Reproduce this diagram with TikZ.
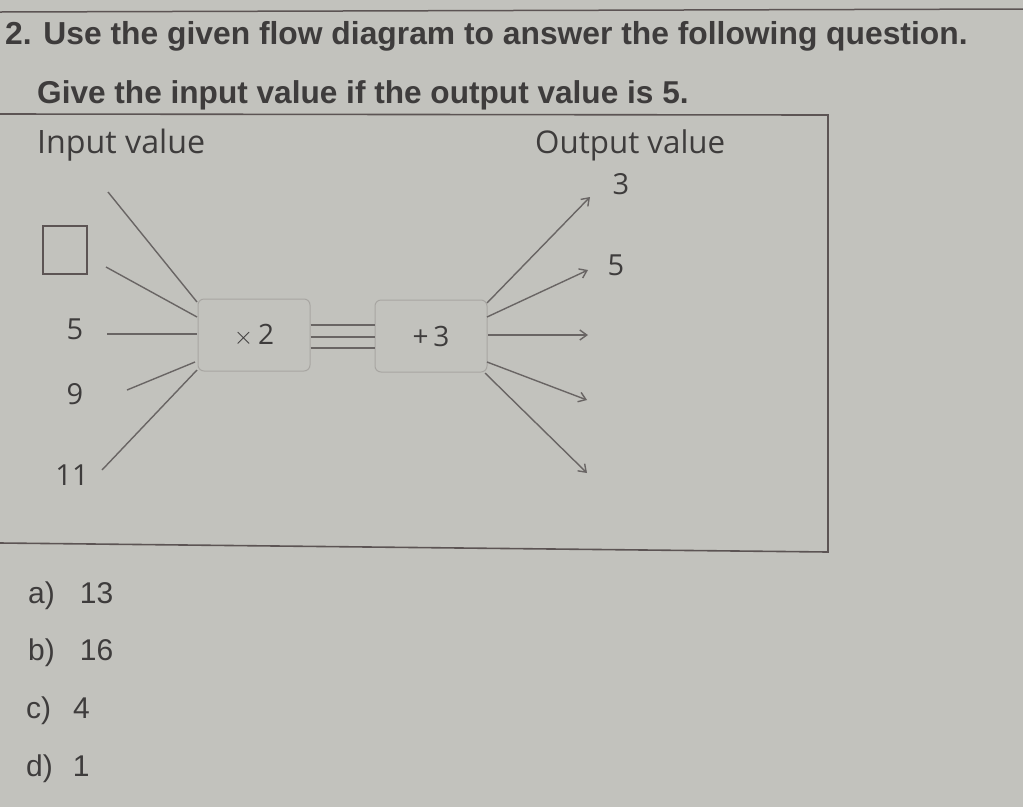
\documentclass[tikz,border=0pt]{standalone}
\usepackage{fontspec}
\setmainfont{Liberation Sans}
\newfontfamily\digfont{Open Sans}
\usetikzlibrary{arrows.meta}
\definecolor{paper}{RGB}{194,194,189}
\definecolor{ink}{RGB}{62,60,60}
\definecolor{pen}{RGB}{105,101,100}
\definecolor{faint}{RGB}{168,166,162}
\definecolor{frame}{RGB}{92,84,84}
\begin{document}
\begin{tikzpicture}[x=1pt,y=-1pt,
 txt/.style={inner sep=0pt,anchor=base west,text=ink},
 lbl/.style={inner sep=0pt,text=ink,font=\digfont\fontsize{29}{31}\selectfont},
 opbox/.style={draw=faint,line width=1pt,rounded corners=6pt,minimum width=112pt,minimum height=72pt,inner sep=0pt,text=ink,font=\digfont\fontsize{28}{30}\selectfont},
 conn/.style={draw=pen,line width=1.4pt},
 arr/.style={conn,-{Straight Barb[length=7pt,width=10pt]}},
 opt/.style={txt,font=\fontsize{30}{32}\selectfont}
]
\fill[paper] (0,0) rectangle (1023,807);
\useasboundingbox (0,0) rectangle (1023,807);
% top rule and frame
\draw[frame,line width=1.5pt] (0,12) -- (1023,9);
\draw[frame,line width=1.6pt] (0,114) -- (828,115) -- (828,552) -- (0,543);
% texts
\node[txt,font=\bfseries\fontsize{31.8}{34}\selectfont] (title) at (5,44) {2. Use the given flow diagram to answer the following question.};
\node[txt,font=\bfseries\fontsize{31.6}{34}\selectfont] (q) at (37,103) {Give the input value if the output value is 5.};
\node[txt,font=\digfont\fontsize{32.2}{34}\selectfont] (inlab) at (37,153) {Input value};
\node[txt,font=\digfont\fontsize{31.3}{33}\selectfont] (outlab) at (535,153) {Output value};
% operation boxes
\node[opbox] (m) at (254,335) {$\times$\,2};
\node[opbox] (p) at (431,336) {+\,3};
% input labels
\node[draw=frame,line width=2pt,minimum width=44pt,minimum height=48pt,inner sep=0pt] (sq) at (65,250) {};
\node[lbl] (i5) at (75,329) {5};
\node[lbl] (i9) at (75,394) {9};
\node[lbl] (i11) at (72,475) {11};
% output labels
\node[lbl] (o3) at (621,184) {3};
\node[lbl] (o5) at (616,265) {5};
% coordinates
\coordinate (a1) at (108,192);
\coordinate (a2) at (106,267);
\coordinate (a3) at (107,334);
\coordinate (a4) at (127,390);
\coordinate (a5) at (102,470);
\coordinate (b1) at (197,302);
\coordinate (b2) at (197,317);
\coordinate (b3) at (197,334);
\coordinate (b4) at (195,362);
\coordinate (b5) at (197,370);
\coordinate (c1) at (487,303);
\coordinate (c2) at (487,317);
\coordinate (c3) at (488,335);
\coordinate (c4) at (487,362);
\coordinate (c5) at (485,373);
\coordinate (d1) at (590,197);
\coordinate (d2) at (588,270);
\coordinate (d3) at (588,335);
\coordinate (d4) at (587,400);
\coordinate (d5) at (587,473);
% input lines
\foreach \k in {1,...,5} {\draw[conn] (a\k) -- (b\k);}
% output arrows
\foreach \k in {1,...,5} {\draw[arr] (c\k) -- (d\k);}
% triple link
\draw[conn,line width=1.2pt] (m.east |- 0,325) -- (p.west |- 0,325);
\draw[conn,line width=1.2pt] (m.east |- 0,337) -- (p.west |- 0,337);
\draw[conn,line width=1.2pt] (m.east |- 0,348) -- (p.west |- 0,348);
% options
\node[opt] (oa) at (28,603) {a)\hspace{25pt}13};
\node[opt] (ob) at (28,660) {b)\hspace{25pt}16};
\node[opt] (oc) at (26,718) {c)\hspace{22pt}4};
\node[opt] (od) at (26,776) {d)\hspace{20pt}1};
\end{tikzpicture}
\end{document}
